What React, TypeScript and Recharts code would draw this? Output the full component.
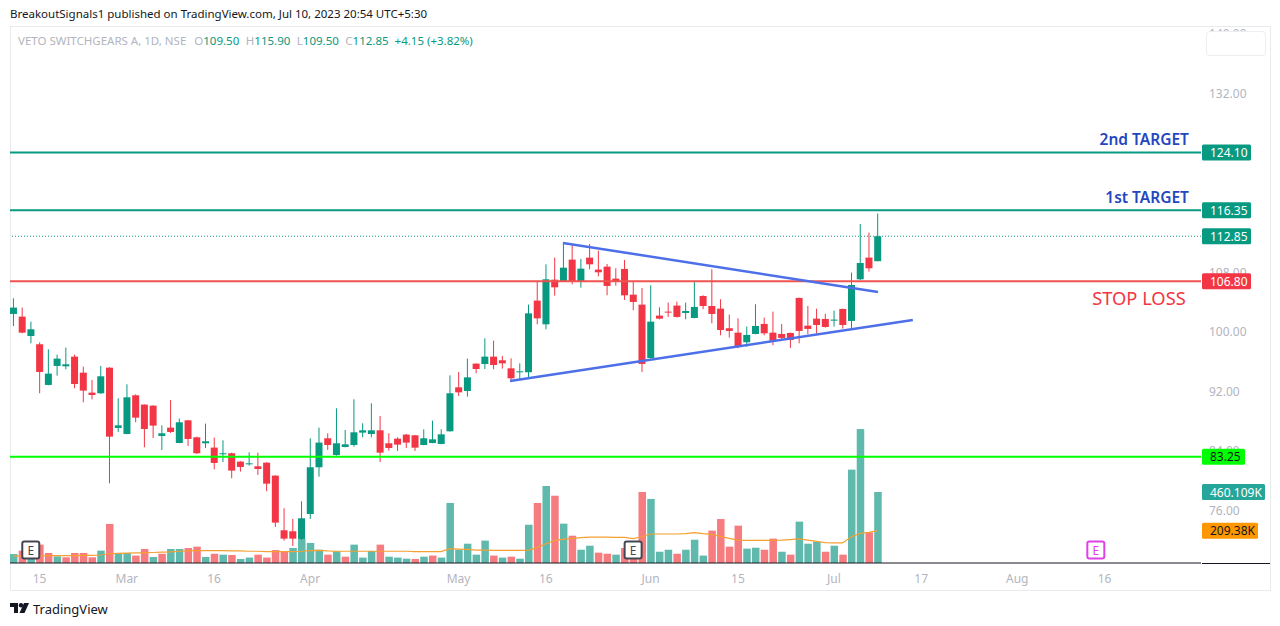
import { ComposedChart, Bar, Line, XAxis, YAxis, ReferenceLine, ReferenceDot } from "recharts";

const FONT = "'Noto Sans', 'Open Sans', sans-serif";
const GREEN = "#089981";
const RED = "#f23645";
const BLUE = "#4d6fe8";

// candles, oldest first
const opens = [
  102.42, 102.06, 99.46, 98.35, 92.89, 95.44, 95.39, 96.69, 94.54, 91.86,
  91.77, 95.21, 87.12, 86.31, 91.5, 90.25, 90.11, 86.04, 87.16, 85.1,
  88.14, 85.86, 85.06, 84.48, 83.58, 83.72, 82.6, 82.24, 81.97, 82.46,
  80.72, 73.38, 73.25, 72.22, 75.57, 81.84, 85.73, 83.49, 84.56, 84.83,
  86.49, 86.31, 86.8, 85.06, 85.68, 86.22, 86.13, 84.83, 85.1, 84.97,
  86.67, 92.57, 92.08, 95.75, 95.7, 96.69, 96.2, 95.12, 94.59, 94.59,
  104.21, 101.03, 107.02, 106.76, 109.71, 106.76, 109.98, 108.37, 108.77, 107.16,
  108.46, 105.01, 103.67, 96.51, 102.2, 102.73, 103.54, 102.55, 101.88, 104.83,
  103.49, 103.13, 100.5, 99.91, 98.62, 99.73, 101.08, 99.91, 99.73, 99.87,
  104.57, 100.85, 101.79, 101.75, 101.52, 103.09, 101.48, 107.07, 109.98, 109.5,
];
const closes = [
  103.27, 99.91, 100.36, 94.63, 94.41, 96.42, 95.66, 93.02, 92.13, 91.54,
  94.05, 85.95, 87.47, 91.23, 88.5, 86.98, 87.43, 86.4, 86.58, 87.88,
  85.64, 83.72, 85.33, 82.42, 83.72, 81.39, 81.88, 82.37, 81.61, 79.64,
  74.41, 72.26, 72.26, 74.99, 81.84, 85.15, 84.83, 85.06, 84.92, 86.53,
  86.8, 86.8, 83.8, 84.43, 84.88, 85.15, 84.47, 85.73, 85.59, 86.26,
  91.77, 91.9, 93.91, 95.03, 96.69, 95.57, 95.79, 93.78, 94.72, 102.5,
  101.83, 107.07, 105.99, 108.63, 106.76, 108.5, 109.08, 108.01, 106.18, 106.8,
  104.92, 104.03, 95.71, 101.39, 101.79, 102.64, 102.02, 102.82, 103.36, 103.49,
  102.42, 100.27, 100.14, 98.03, 99.6, 100.81, 99.82, 98.84, 99.2, 98.93,
  100.14, 100.41, 100.94, 100.67, 101.66, 100.94, 106.31, 109.26, 108.55, 112.85,
];
const highs = [
  104.52, 103.27, 101.39, 98.61, 97.67, 96.96, 97.9, 96.96, 95.35, 93.56,
  95.44, 95.26, 91.1, 92.98, 91.63, 90.29, 90.16, 87.47, 90.87, 88.37,
  88.19, 85.95, 87.7, 85.82, 85.46, 83.8, 82.64, 83.85, 83.8, 82.51,
  80.76, 76.33, 74.9, 77.27, 85.73, 87.16, 86.4, 89.75, 86.85, 90.96,
  87.74, 90.43, 88.72, 86.4, 85.86, 86.31, 86.17, 86.94, 88.1, 86.94,
  94.18, 94.63, 96.42, 95.79, 99.15, 98.84, 96.78, 96.47, 95.79, 103.67,
  106.76, 109.08, 109.98, 111.99, 111.68, 109.8, 111.81, 110.92, 109.13, 108.55,
  109.67, 106.76, 105.91, 106.27, 103.31, 103.94, 104.07, 103.94, 106.85, 104.92,
  108.41, 104.39, 102.33, 101.84, 100.72, 103.72, 101.93, 102.73, 101.08, 99.91,
  104.61, 103.49, 103.13, 102.46, 102.87, 103.13, 107.97, 114.5, 113.34, 115.9,
];
const lows = [
  100.81, 99.82, 98.48, 91.77, 92.84, 94.14, 94.99, 92.44, 90.56, 90.96,
  91.68, 79.69, 86.58, 86.27, 87.88, 84.52, 85.77, 84.16, 86.44, 85.06,
  84.7, 83.63, 84.43, 81.57, 82.55, 80.36, 81.25, 82.06, 80.81, 78.62,
  73.83, 71.99, 71.28, 72.08, 74.9, 80.58, 84.16, 83.4, 84.52, 84.61,
  85.86, 85.86, 82.55, 84.07, 84.03, 84.43, 84.03, 84.79, 85.06, 84.92,
  86.62, 91.41, 91.32, 94.45, 95.03, 94.99, 95.08, 93.29, 93.65, 93.78,
  101.03, 100.36, 104.88, 106.71, 106.4, 105.95, 108.41, 107.47, 104.92, 106.22,
  104.3, 102.91, 94.63, 96.42, 101.7, 102.02, 101.93, 101.7, 101.84, 103.05,
  101.17, 99.56, 99.24, 97.81, 98.03, 99.69, 99.56, 98.21, 98.8, 97.86,
  98.48, 99.69, 99.78, 100.58, 100.72, 100.45, 100.5, 106.98, 108.1, 109.5,
];

// volume in thousands
const volumes = [
  58, 80, 32, 119, 65, 43, 37, 65, 65, 37,
  80, 253, 65, 65, 48, 91, 39, 60, 91, 91,
  97, 106, 39, 60, 54, 52, 26, 35, 54, 35,
  84, 78, 97, 158, 130, 86, 54, 76, 41, 119,
  35, 78, 119, 41, 35, 28, 26, 41, 48, 35,
  389, 86, 125, 54, 145, 48, 35, 41, 28, 248,
  389, 499, 436, 255, 177, 86, 112, 67, 60, 54,
  97, 43, 460, 415, 73, 86, 60, 86, 151, 48,
  210, 285, 106, 242, 93, 99, 86, 158, 73, 54,
  268, 125, 138, 73, 112, 54, 605, 868, 199, 460.109,
];
const volumeMa = [
  44, 44, 46, 46, 48, 48, 48, 48, 50, 50,
  52, 60, 62, 64, 66, 66, 68, 70, 72, 76,
  78, 80, 80, 80, 80, 78, 78, 76, 76, 74,
  74, 74, 74, 76, 80, 82, 78, 76, 76, 76,
  76, 76, 76, 76, 76, 76, 74, 74, 74, 74,
  93, 90, 88, 84, 84, 82, 82, 82, 82, 84,
  100, 125, 145, 155, 158, 165, 168, 168, 168, 166,
  166, 158, 170, 188, 188, 188, 188, 190, 197, 190,
  186, 173, 160, 148, 146, 146, 146, 146, 148, 152,
  156, 148, 140, 132, 130, 130, 170, 192, 199, 209.38,
];

const priceTicks = [76, 84, 92, 100, 108, 132, 140];
const timeTicks = [3, 13, 23, 34, 51, 61, 73, 83, 94, 104, 115, 125];
const timeLabels = ["15", "Mar", "16", "Apr", "May", "16", "Jun", "15", "Jul", "17", "Aug", "16"];

const rows = closes.map((close, i) => ({
  i,
  open: opens[i],
  close,
  range: [lows[i], highs[i]],
  volume: volumes[i],
  ma: volumeMa[i],
  up: i === 0 || close >= closes[i - 1],
}));

const X_MIN = -0.38;
const X_MAX = 136.05;

function Candle(props: any) {
  const { x, y, width, height, payload } = props;
  const up = payload.close >= payload.open;
  const fill = up ? GREEN : RED;
  const [low, high] = payload.range;
  const perUnit = height / (high - low);
  const top = y + (high - Math.max(payload.open, payload.close)) * perUnit;
  const bodyH = Math.max(Math.abs(payload.open - payload.close) * perUnit, 1);
  const cx = x + width / 2;
  return (
    <g>
      <line x1={cx} x2={cx} y1={y} y2={y + height} stroke={fill} strokeWidth={1} />
      <rect x={x} y={top} width={width} height={bodyH} fill={fill} />
    </g>
  );
}

function VolumeBar(props: any) {
  const { x, y, width, height, payload } = props;
  return <rect x={x} y={y} width={width} height={height} fill={payload.up ? "#5fb9ad" : "#f77c80"} />;
}

function priceTag(text: string, fill: string, color: string, w: number) {
  return (props: any) => (
    <g>
      <rect x={props.cx + 1} y={props.cy - 8} width={w} height={16} rx={1.5} fill={fill} />
      <text x={props.cx + 9} y={props.cy + 4.5} fontSize={12} fontFamily={FONT} fill={color}>
        {text}
      </text>
    </g>
  );
}

function note(text: string, color: string, size: number, weight: number) {
  return (props: any) => (
    <text x={props.cx} y={props.cy} textAnchor="end" dominantBaseline="middle" fontSize={size} fontWeight={weight} fontFamily={FONT} fill={color}>
      {text}
    </text>
  );
}

function earnings(color: string) {
  return (props: any) => (
    <g>
      <rect x={props.cx - 8.5} y={props.cy - 8.5} width={17} height={17} rx={2} fill="#fff" stroke={color} strokeWidth={2} />
      <text x={props.cx} y={props.cy + 4.5} textAnchor="middle" fontSize={12} fontFamily={FONT} fill={color}>
        E
      </text>
    </g>
  );
}

export default function App() {
  return (
    <div style={{ position: "absolute", left: 0, top: 0, width: 1280, height: 626, background: "#fff", overflow: "hidden", fontFamily: FONT }}>
      <div style={{ position: "absolute", left: 10, top: 6, fontSize: 11.5, color: "#131722", whiteSpace: "nowrap" }}>
        BreakoutSignals1 published on TradingView.com, Jul 10, 2023 20:54 UTC+5:30
      </div>

      {/* frame */}
      <div style={{ position: "absolute", left: 10, top: 26, width: 1259, height: 563, border: "1px solid #e9eaee", boxSizing: "content-box" }} />

      <div style={{ position: "absolute", left: 0, top: 0 }}>
        <ComposedChart width={1280} height={626} data={rows} margin={{ top: 26, right: 11, bottom: 33, left: 10 }}>
          <XAxis
            dataKey="i"
            type="number"
            domain={[X_MIN, X_MAX]}
            ticks={timeTicks}
            interval={0}
            allowDataOverflow
            tickFormatter={(v: number) => timeLabels[timeTicks.indexOf(v)]}
            tick={{ fill: "#b2b5be", fontSize: 12, fontFamily: FONT }}
            tickLine={false}
            axisLine={{ stroke: "#131722" }}
            height={30}
            tickMargin={5}
          />
          {/* a second, hidden x axis keeps volume bars from sharing slots with the candles */}
          <XAxis xAxisId="volX" dataKey="i" type="number" domain={[X_MIN, X_MAX]} allowDataOverflow hide />
          <YAxis
            yAxisId="price"
            orientation="right"
            domain={[68.99, 141.07]}
            allowDataOverflow
            ticks={priceTicks}
            interval={0}
            tickFormatter={(v: number) => v.toFixed(2)}
            tick={{ fill: "#b2b5be", fontSize: 12, fontFamily: FONT }}
            tickLine={false}
            axisLine={false}
            width={68}
          />
          <YAxis yAxisId="vol" hide domain={[0, 3480]} allowDataOverflow />

          <ReferenceLine yAxisId="price" y={124.1} stroke={GREEN} strokeWidth={2} />
          <ReferenceLine yAxisId="price" y={116.35} stroke={GREEN} strokeWidth={2} />
          <ReferenceLine yAxisId="price" y={112.85} stroke={GREEN} strokeWidth={1} strokeDasharray="1 2" />
          <ReferenceLine yAxisId="price" y={106.8} stroke="#ef5350" strokeWidth={2} />
          <ReferenceLine yAxisId="price" y={83.25} stroke="#00ff00" strokeWidth={2} />

          <Bar xAxisId="volX" yAxisId="vol" dataKey="volume" barSize={7.5} shape={<VolumeBar />} isAnimationActive={false} />
          <Line xAxisId="volX" yAxisId="vol" dataKey="ma" stroke="#f5a030" strokeWidth={1.2} dot={false} isAnimationActive={false} />
          <Bar yAxisId="price" dataKey="range" barSize={7} shape={<Candle />} isAnimationActive={false} />

          <ReferenceLine yAxisId="price" segment={[{ x: 56.9, y: 93.42 }, { x: 103.04, y: 101.61 }]} stroke={BLUE} strokeWidth={2.5} />
          <ReferenceLine yAxisId="price" segment={[{ x: 62.96, y: 111.95 }, { x: 99.05, y: 105.37 }]} stroke={BLUE} strokeWidth={2.5} />

          <ReferenceDot yAxisId="price" x={134.67} y={125.7} shape={note("2nd TARGET", "#2447c0", 15.5, 600)} />
          <ReferenceDot yAxisId="price" x={134.67} y={117.9} shape={note("1st TARGET", "#2447c0", 15.5, 600)} />
          <ReferenceDot yAxisId="price" x={134.3} y={104.3} shape={note("STOP LOSS", RED, 18.3, 400)} />

          <ReferenceDot yAxisId="vol" xAxisId="volX" x={2} y={84} shape={earnings("#434651")} zIndex={2000} />
          <ReferenceDot yAxisId="vol" xAxisId="volX" x={71} y={84} shape={earnings("#434651")} zIndex={2000} />
          <ReferenceDot yAxisId="vol" xAxisId="volX" x={124} y={84} shape={earnings("#e040e8")} zIndex={2000} />

          <ReferenceDot yAxisId="price" x={X_MAX} y={124.1} shape={priceTag("124.10", GREEN, "#fff", 49)} zIndex={2000} />
          <ReferenceDot yAxisId="price" x={X_MAX} y={116.35} shape={priceTag("116.35", GREEN, "#fff", 49)} zIndex={2000} />
          <ReferenceDot yAxisId="price" x={X_MAX} y={112.85} shape={priceTag("112.85", GREEN, "#fff", 49)} zIndex={2000} />
          <ReferenceDot yAxisId="price" x={X_MAX} y={106.8} shape={priceTag("106.80", RED, "#fff", 49)} zIndex={2000} />
          <ReferenceDot yAxisId="price" x={X_MAX} y={83.25} shape={priceTag("83.25", "#00ff00", "#131722", 43)} zIndex={2000} />
          <ReferenceDot yAxisId="vol" xAxisId="volX" x={X_MAX} y={460.109} shape={priceTag("460.109K", "#26a69a", "#fff", 63)} zIndex={2000} />
          <ReferenceDot yAxisId="vol" xAxisId="volX" x={X_MAX} y={209.38} shape={priceTag("209.38K", "#ff9800", "#131722", 56)} zIndex={2000} />
        </ComposedChart>
      </div>

      <div style={{ position: "absolute", left: 18, top: 33, fontSize: 11.5, whiteSpace: "nowrap", color: GREEN }}>
        <span style={{ color: "#b2b5be" }}>VETO SWITCHGEARS A, 1D, NSE</span>
        <span style={{ color: "#b2b5be", marginLeft: 8 }}>O</span>109.50
        <span style={{ color: "#b2b5be", marginLeft: 6.5 }}>H</span>115.90
        <span style={{ color: "#b2b5be", marginLeft: 6.5 }}>L</span>109.50
        <span style={{ color: "#b2b5be", marginLeft: 6.5 }}>C</span>112.85
        <span style={{ marginLeft: 6 }}>+4.15 (+3.82%)</span>
      </div>

      <div style={{ position: "absolute", left: 1202, top: 563, width: 68, height: 1, background: "#131722" }} />
      <div style={{ position: "absolute", left: 1206, top: 31, width: 58, height: 23, background: "#fff", border: "1px solid #eceef2", borderRadius: 4 }} />

      <svg width={20} height={12} style={{ position: "absolute", left: 10, top: 603 }}>
        <path d="M0 0h8v10H4V4H0z" fill="#131722" />
        <circle cx={11} cy={2.2} r={2.2} fill="#131722" />
        <path d="M14 0h5l-4.5 10H9.5z" fill="#131722" />
      </svg>
      <div style={{ position: "absolute", left: 33, top: 600, fontSize: 13, color: "#131722" }}>TradingView</div>
    </div>
  );
}
